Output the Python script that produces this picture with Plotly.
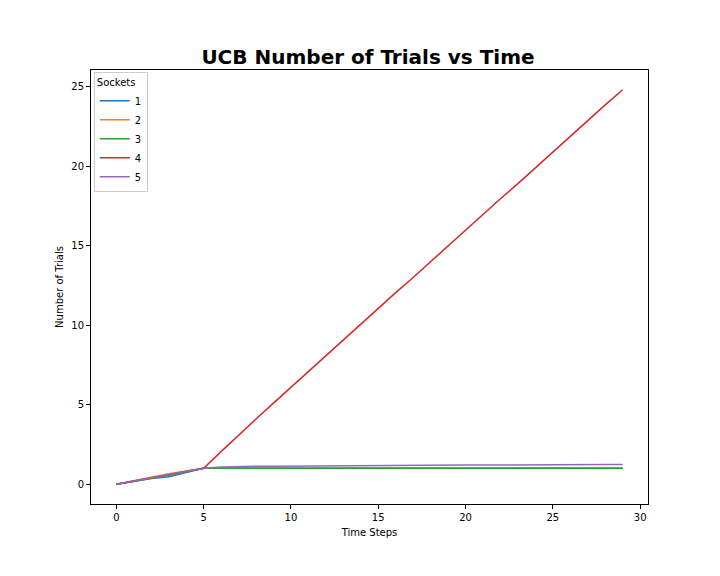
import plotly.graph_objects as go

steps = list(range(30))

# average number of trials per socket at each time step
socket_1 = [0, 0.18, 0.36, 0.48, 0.72, 1.0, 1.0, 1.0, 1.0, 1.0, 1.0, 1.0, 1.0, 1.0, 1.0,
            1.0, 1.0, 1.0, 1.0, 1.0, 1.0, 1.0, 1.0, 1.0, 1.0, 1.0, 1.0, 1.0, 1.0, 1.0]
socket_2 = [0, 0.22, 0.46, 0.66, 0.84, 1.0, 1.0, 1.0, 1.0, 1.0, 1.0, 1.0, 1.0, 1.0, 1.0,
            1.0, 1.0, 1.0, 1.0, 1.0, 1.0, 1.0, 1.0, 1.0, 1.0, 1.0, 1.0, 1.0, 1.0, 1.0]
socket_3 = [0, 0.18, 0.38, 0.56, 0.78, 1.0, 1.0, 1.0, 1.0, 1.0, 1.0, 1.0, 1.0, 1.0, 1.0,
            1.0, 1.0, 1.0, 1.0, 1.0, 1.0, 1.0, 1.0, 1.0, 1.0, 1.0, 1.0, 1.0, 1.0, 1.0]
socket_4 = [0, 0.2, 0.4, 0.6, 0.8, 1.0, 2.05, 3.1, 4.1, 5.1, 6.1, 7.1, 8.1, 9.1, 10.1,
            11.05, 12.05, 13.0, 14.0, 15.0, 15.95, 16.95, 17.95, 18.9, 19.9, 20.9, 21.9,
            22.85, 23.85, 24.8]
socket_5 = [0, 0.2, 0.4, 0.6, 0.8, 1.0, 1.08, 1.12, 1.13, 1.14, 1.15, 1.16, 1.17, 1.17, 1.18,
            1.19, 1.2, 1.2, 1.2, 1.21, 1.21, 1.21, 1.22, 1.22, 1.22, 1.23, 1.24, 1.24, 1.24, 1.24]

names = ['1', '2', '3', '4', '5']
series = [socket_1, socket_2, socket_3, socket_4, socket_5]
colors = ['#1f77b4', '#ff7f0e', '#2ca02c', '#d62728', '#9467bd']

fig = go.Figure()
for name, ys, c in zip(names, series, colors):
    fig.add_trace(go.Scatter(x=steps, y=ys, mode='lines', name=name,
                             line=dict(color=c, width=1.5)))

axis_style = dict(showgrid=False, zeroline=False, showline=True, linecolor='black',
                  linewidth=1, mirror=True, ticks='outside', ticklen=4,
                  tickcolor='black', tickfont=dict(size=10, color='black'))

fig.update_xaxes(range=[-1.45, 30.45], tickvals=[0, 5, 10, 15, 20, 25, 30],
                 title=dict(text='Time Steps', font=dict(size=10, color='black'), standoff=6),
                 **axis_style)
fig.update_yaxes(range=[-1.24, 26.04], tickvals=[0, 5, 10, 15, 20, 25],
                 title=dict(text='Number of Trials', font=dict(size=10, color='black'), standoff=5),
                 **axis_style)

fig.update_layout(
    width=720, height=576,
    margin=dict(l=83, r=80, t=62, b=80),
    paper_bgcolor='white', plot_bgcolor='white',
    font=dict(family='DejaVu Sans', color='black'),
    title=dict(text='<b>UCB Number of Trials vs Time</b>', x=0.5, xanchor='center',
               y=0.915, yanchor='middle', font=dict(size=20, color='black')),
    legend=dict(title=dict(text='Sockets', font=dict(size=10)), x=0.005, y=0.995,
                xanchor='left', yanchor='top', bgcolor='white',
                bordercolor='#cccccc', borderwidth=1, font=dict(size=10),
                tracegroupgap=0, itemwidth=30),
)

fig.write_html("out.html")
